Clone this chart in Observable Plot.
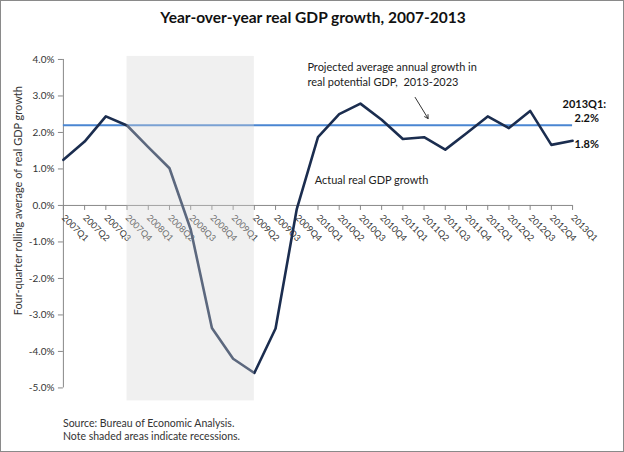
<!DOCTYPE html>
<html>
<head>
<meta charset="utf-8">
<script src="https://cdn.jsdelivr.net/npm/d3@7"></script>
<script src="https://cdn.jsdelivr.net/npm/@observablehq/plot@0.6"></script>
<style>
  html, body { margin: 0; padding: 0; background: #fff; }
  #frame { position: relative; width: 624px; height: 452px; box-sizing: border-box; border: 1px solid #8a8a8a; background: #fff; overflow: hidden; font-family: Lato, "Open Sans", sans-serif; }
  #title { position: absolute; left: 0; top: 7px; width: 624px; text-align: center; font-weight: bold; font-size: 15.5px; color: #111; }
  #chart { position: absolute; left: -1px; top: 35px; }
  #caption { position: absolute; left: 62px; top: 416px; font-size: 10.5px; line-height: 13px; color: #333; }
  g[aria-label="label-2013"] text { text-decoration: underline; }
</style>
</head>
<body>
<div id="frame">
  <div id="title">Year-over-year real GDP growth, 2007-2013</div>
  <div id="chart"></div>
  <div id="caption">Source: Bureau of Economic Analysis.<br>Note shaded areas indicate recessions.</div>
</div>
<script>
// ---- data ----
const quarters = ["2007Q1","2007Q2","2007Q3","2007Q4","2008Q1","2008Q2","2008Q3","2008Q4",
  "2009Q1","2009Q2","2009Q3","2009Q4","2010Q1","2010Q2","2010Q3","2010Q4",
  "2011Q1","2011Q2","2011Q3","2011Q4","2012Q1","2012Q2","2012Q3","2012Q4","2013Q1"];
const growth = [1.25, 1.75, 2.44, 2.19, 1.60, 1.02, -0.66, -3.36,
  -4.20, -4.59, -3.37, -0.10, 1.87, 2.50, 2.79, 2.35,
  1.82, 1.87, 1.53, 1.98, 2.44, 2.12, 2.59, 1.66, 1.77];
const potential = 2.2;
const recessionStart = "2007Q4";
const recessionEnd = "2009Q2";
const yTicks = [4, 3, 2, 1, 0, -1, -2, -3, -4, -5];
const lastLabel = "2013Q1:";
const lastPotentialLabel = "2.2%";
const lastActualLabel = "1.8%";
const noteProjected = "Projected average annual growth in\nreal potential GDP,  2013-2023";
const noteActual = "Actual real GDP growth";
const yTitle = "Four-quarter rolling average of real GDP growth";
// annotation anchor points (quarter index, percent)
const projectedAt = [11.5, 3.6];
const actualAt = [11.85, 0.68];
const arrowFrom = [16.58, 2.96];
const arrowTo = [17.19, 2.38];

// ---- derived table ----
const idx = quarters.map((q, i) => i);
const series = quarters.map((q, i) => ({i, q, v: growth[i]}));
const last = series[series.length - 1];
const rs = quarters.indexOf(recessionStart), re = quarters.indexOf(recessionEnd);
const fmt = d => d.toFixed(1) + "%";
const navy = "#1b2d4f";
const blue = "#4a86d2";
const axisGray = "#888888";
const textColor = "#333333";

const plot = Plot.plot({
  width: 624,
  height: 374,
  marginLeft: 63,
  marginRight: 51,
  marginTop: 23,
  marginBottom: 22,
  style: {fontFamily: "Lato, 'Open Sans', sans-serif", background: "transparent", color: textColor},
  x: {type: "linear", domain: [0, quarters.length - 1], axis: null},
  y: {domain: [-5, 4], axis: null},
  marks: [
    // y axis line and ticks
    Plot.ruleX([0], {y1: yTicks[yTicks.length - 1], y2: yTicks[0], stroke: axisGray}),
    Plot.ruleY(yTicks, {y: d => d, x1: 0, x2: 0, insetLeft: -5, stroke: axisGray}),
    Plot.text(yTicks, {x: 0, y: d => d, text: fmt, textAnchor: "end", dx: -9, fontSize: 10, fill: textColor}),
    // x axis at zero
    Plot.ruleY([0], {x1: 0, x2: quarters.length - 1, stroke: axisGray}),
    Plot.ruleX(idx, {x: d => d, y1: 0, y2: 0, insetTop: 5, stroke: axisGray}),
    Plot.text(quarters, {x: (d, i) => i, y: () => 0, text: d => d, rotate: 45, textAnchor: "start", dx: 0, dy: 11, fontSize: 9, fill: textColor}),
    // potential growth line
    Plot.ruleY([potential], {x1: 0, x2: quarters.length - 1, stroke: blue, strokeWidth: 2}),
    // actual growth
    Plot.line(series, {x: "i", y: "v", stroke: navy, strokeWidth: 2.6}),
    // recession shading (overlay)
    Plot.rect([{a: rs, b: re}], {x1: "a", x2: "b", fill: "#d4d4d4", fillOpacity: 0.353, insetTop: -3, insetBottom: -13}),
    // annotations
    Plot.text([noteProjected], {x: projectedAt[0], y: projectedAt[1], text: d => d, textAnchor: "start", lineHeight: 1.35, fontSize: 11, fill: "#222"}),
    Plot.text([noteActual], {x: actualAt[0], y: actualAt[1], text: d => d, textAnchor: "start", fontSize: 11, fill: "#222"}),
    Plot.arrow([0], {x1: arrowFrom[0], y1: arrowFrom[1], x2: arrowTo[0], y2: arrowTo[1], stroke: "#333", strokeWidth: 1, headLength: 6}),
    Plot.text([lastLabel], {x: last.i, y: potential, text: d => d, textAnchor: "start", dx: -10, dy: -21, fontSize: 11, fontWeight: "bold", fill: "#111", ariaLabel: "label-2013"}),
    Plot.text([lastPotentialLabel], {x: last.i, y: potential, text: d => d, textAnchor: "start", dx: 2, dy: -7, fontSize: 11, fontWeight: "bold", fill: "#111"}),
    Plot.text([lastActualLabel], {x: last.i, y: last.v, text: d => d, textAnchor: "start", dx: 2, dy: 4, fontSize: 11, fontWeight: "bold", fill: "#111"}),
    // y axis title
    Plot.text([yTitle], {frameAnchor: "left", text: d => d, rotate: -90, textAnchor: "middle", dx: -45, dy: -23, fontSize: 11, fill: textColor})
  ]
});
document.getElementById("chart").appendChild(plot);
</script>
</body>
</html>
